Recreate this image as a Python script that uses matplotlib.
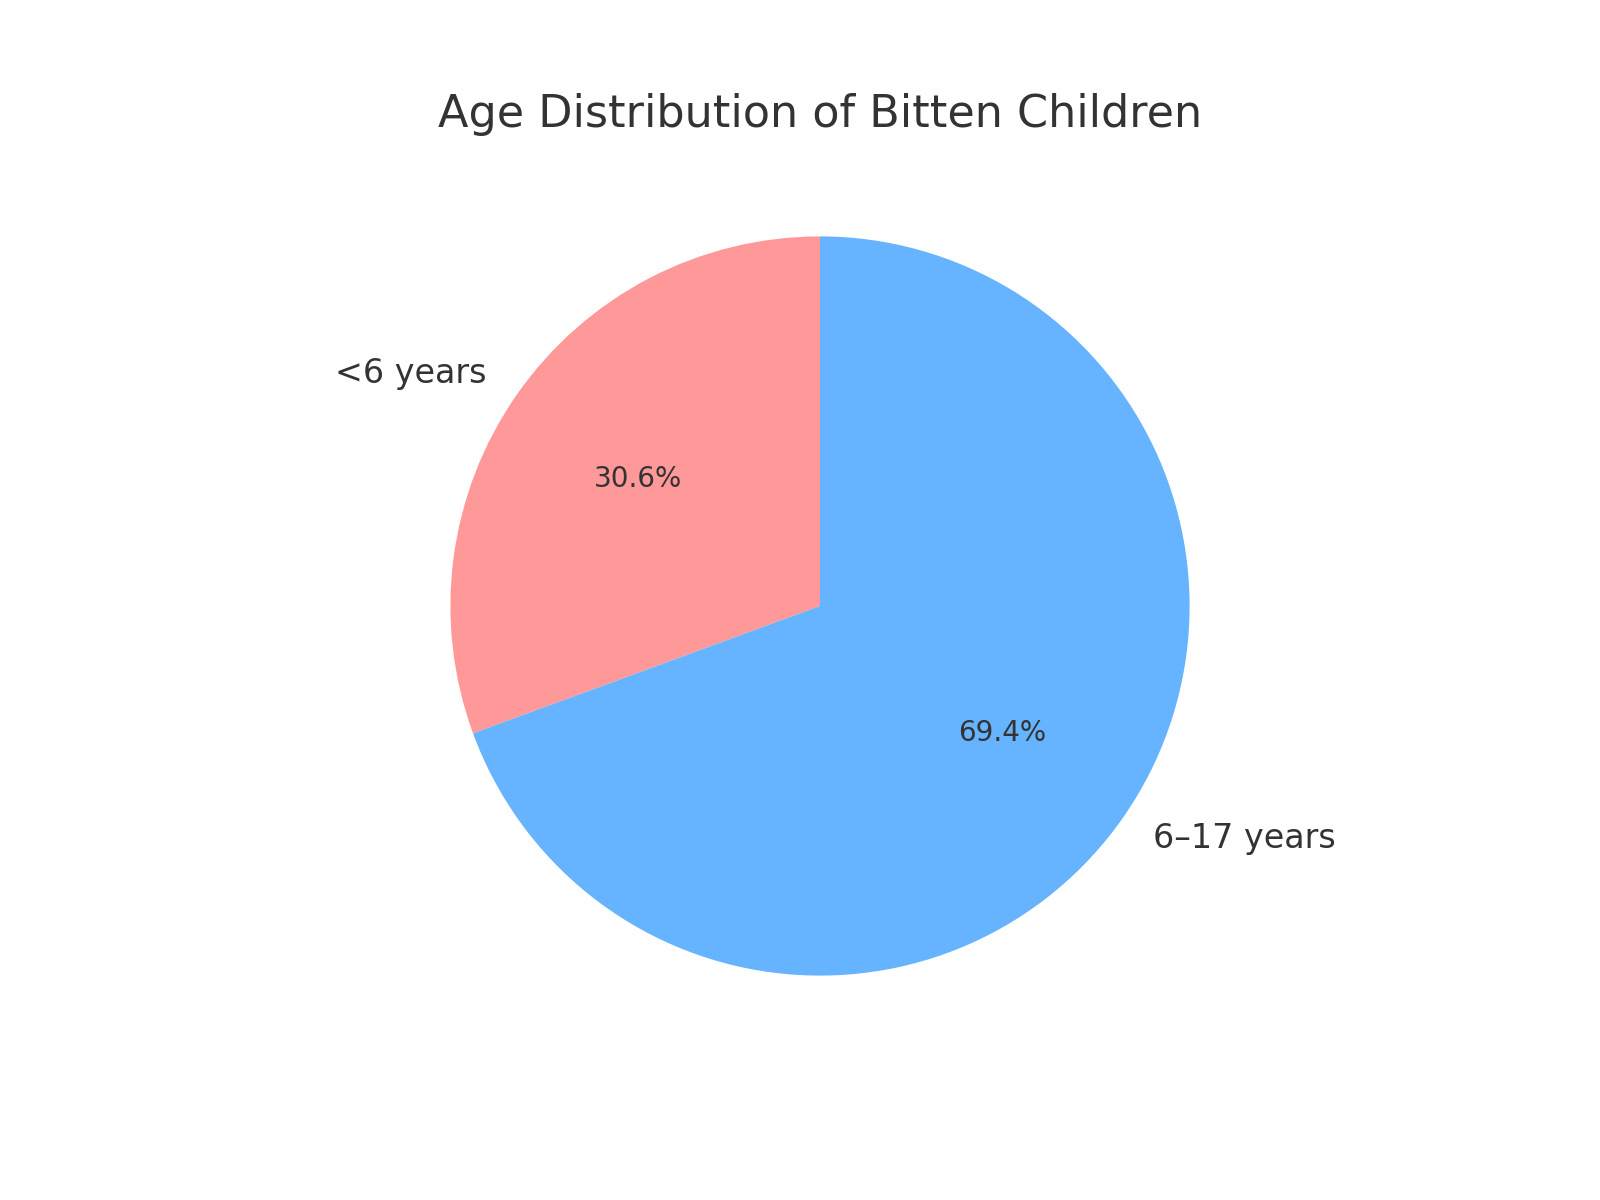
import matplotlib.pyplot as plt

# Age groups and their share of bitten children
labels = ['<6 years', '6–17 years']
shares = [30.6, 69.4]
colors = ['#ff9999', '#66b3ff']

plt.rcParams['text.color'] = '#333333'

fig, ax = plt.subplots(figsize=(8, 6), dpi=200)
ax.pie(shares, labels=labels, colors=colors, autopct='%1.1f%%', startangle=90,
       textprops={'fontsize': 12})
for t in ax.texts:
    if t.get_text().endswith('%'):
        t.set_fontsize(10)
ax.set_title('Age Distribution of Bitten Children', fontsize=16, color='#333333')
plt.savefig('out.png')
